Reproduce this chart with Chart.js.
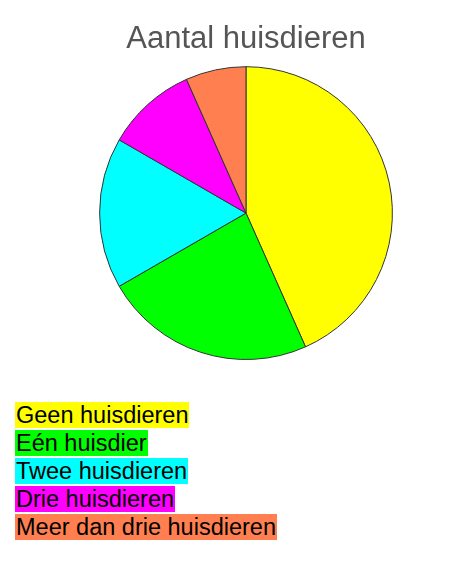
<!DOCTYPE html>
<html><head><meta charset="utf-8">
<script src="https://cdn.jsdelivr.net/npm/chart.js@4"></script>
<style>
body{margin:0;background:#fff;font-family:"Liberation Sans",Arial,sans-serif}
#wrap{position:absolute;left:18px;top:0;width:456px;height:360px}
#legend{position:absolute;left:15px;top:401px}
#legend div{height:28px;line-height:28px;font-size:23.5px}
#legend span{padding:0 1px;color:#000}
</style></head><body>
<div id="wrap"><canvas id="c"></canvas></div>
<div id="legend"></div>
<script>
const categories=["Geen huisdieren","Eén huisdier","Twee huisdieren","Drie huisdieren","Meer dan drie huisdieren"];
const values=[13,7,5,3,2];
const colors=["#ffff00","#00ff00","#00ffff","#ff00ff","#ff7f50"];
const lg=document.getElementById('legend');
categories.forEach((c,i)=>{const d=document.createElement('div');const s=document.createElement('span');s.textContent=c;s.style.background=colors[i];d.appendChild(s);lg.appendChild(d);});
new Chart(document.getElementById('c'),{type:'pie',
data:{labels:categories,datasets:[{data:values,backgroundColor:colors,borderColor:'#333',borderWidth:1}]},
options:{responsive:true,maintainAspectRatio:false,animation:false,
layout:{padding:{top:19,bottom:0}},
plugins:{legend:{display:false},tooltip:{enabled:false},
title:{display:true,text:'Aantal huisdieren',color:'#555',font:{size:31,family:'Liberation Sans',weight:'normal'},padding:{top:2,bottom:8}}}}});
</script></body></html>
